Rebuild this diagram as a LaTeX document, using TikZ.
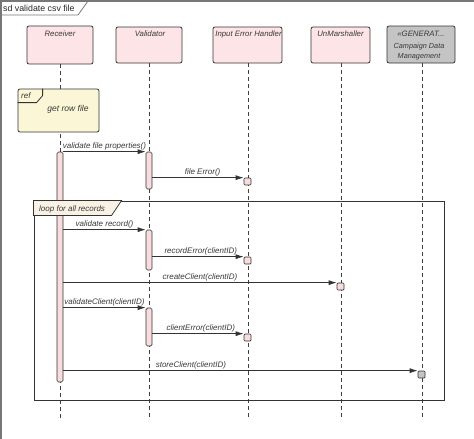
\documentclass[tikz,border=0pt]{standalone}
\usepackage{fontspec}
\setmainfont{Liberation Sans}
\usetikzlibrary{arrows.meta}
\definecolor{headpink}{HTML}{FDE4E6}
\definecolor{actpink}{HTML}{F9DCDE}
\definecolor{refyel}{HTML}{FBF6D6}
\definecolor{looptab}{HTML}{F9F2E4}
\definecolor{gengray}{HTML}{C4C4C4}
\definecolor{framegray}{HTML}{777777}
\begin{document}
\begin{tikzpicture}[x=1pt,y=-1pt,
  head/.style={draw=black!80, line width=0.8pt, fill=headpink, rounded corners=2pt, inner sep=0pt},
  htext/.style={font=\fontsize{7.8}{9}\selectfont\itshape, text=black!78, inner sep=0pt},
  mtext/.style={font=\fontsize{8}{9}\selectfont\itshape, text=black!78, inner sep=1.2pt},
  life/.style={draw=black!75, line width=0.7pt, dash pattern=on 4pt off 3pt},
  actbar/.style={draw=black!80, line width=0.7pt, fill=actpink, minimum width=6pt, inner sep=0pt, rounded corners=1.5pt},
  smallbox/.style={draw=black!80, line width=0.7pt, fill=actpink, minimum size=7pt, inner sep=0pt, rounded corners=1pt},
  msg/.style={draw=black!80, line width=0.75pt, -{Latex[length=8pt,width=5pt]}},
  framel/.style={draw=black!80, line width=0.8pt}
]
\useasboundingbox (0,0) rectangle (474,439);

% outer frame
\draw[framegray, line width=2.2pt] (1,439) -- (1,1) -- (474,1);
\draw[framegray, line width=0.8pt] (1,15) -- (78,15) -- (88,1);
\node[anchor=west, font=\fontsize{8.8}{10}\selectfont, text=black!85, inner sep=0pt] (title) at (3,8) {sd validate csv file};

% lifeline heads
\node[head, minimum width=66pt, minimum height=38pt] (rec) at (60,45) {};
\node[htext] (recT) at (60,34) {Receiver};
\node[head, minimum width=66pt, minimum height=36pt] (val) at (149,45) {};
\node[htext] (valT) at (150,34) {Validator};
\node[head, minimum width=69pt, minimum height=36pt] (ieh) at (247.5,45) {};
\node[htext] (iehT) at (248.5,34) {Input Error Handler};
\node[head, minimum width=59pt, minimum height=36pt] (unm) at (340.5,45) {};
\node[htext] (unmT) at (340.5,34) {UnMarshaller};
\node[head, fill=gengray, minimum width=68pt, minimum height=37pt] (gen) at (421,44.5) {};
\node[htext] (genT) at (421,34) {«GENERAT...};
\node[htext, align=center, font=\fontsize{7.3}{10}\selectfont\itshape] (genT2) at (419,52) {Campaign Data\\Management};

% lifeline ends
\coordinate (recE) at (60,420);
\coordinate (valE) at (149,420);
\coordinate (iehE) at (248,420);
\coordinate (unmE) at (341,420);
\coordinate (genE) at (422,420);
\draw[life] (rec.south) -- (recE);
\draw[life] (val.south) -- (valE);
\draw[life] (ieh.south -| iehE) -- (iehE);
\draw[life] (unm.south -| unmE) -- (unmE);
\draw[life] (gen.south -| genE) -- (genE);

% ref frame
\node[draw=black!80, line width=0.8pt, fill=refyel, rounded corners=2pt, minimum width=81pt, minimum height=43pt, inner sep=0pt] (ref) at (58.5,110.5) {};
\draw[framel] (ref.north west) ++(0,14) -- ++(19,0) -- ++(6,-7) -- ++(0,-7);
\node[anchor=west, mtext, inner sep=0pt] (refT) at (21,96) {ref};
\node[mtext, font=\fontsize{8.5}{10}\selectfont\itshape] (refG) at (68,109) {get row file};

% activations
\node[actbar, minimum height=230pt] (ra) at (60,267) {};
\node[actbar, minimum height=37pt] (va1) at (149,170.5) {};
\node[actbar, minimum height=40pt] (va2) at (149,250) {};
\node[actbar, minimum height=38pt] (va3) at (149,327) {};
\node[smallbox] (ie1) at (247.5,181.5) {};
\node[smallbox] (ie2) at (247.5,260.5) {};
\node[smallbox] (um1) at (340.5,286.5) {};
\node[smallbox] (ie3) at (247.5,337.5) {};
\node[smallbox, fill=gengray] (cd1) at (421.5,374.5) {};

% loop frame
\node[draw=black!80, line width=0.9pt, minimum width=410pt, minimum height=199pt, inner sep=0pt] (loop) at (239,300.5) {};
\filldraw[draw=black!80, fill=looptab, line width=0.8pt] (loop.north west) -- ++(0,15) -- ++(78,0) -- ++(10,-15) -- cycle;
\node[anchor=west, mtext, inner sep=0pt] (loopT) at (39,209) {loop for all records};

% messages
\draw[msg] (ra.east |- va1.north west) -- node[mtext, midway, above] {validate file properties()} (va1.north west);
\draw[msg] (va1.east |- ie1.north west) -- node[mtext, pos=.55, above] {file Error()} (ie1.north west);
\draw[msg] (ra.east |- va2.north west) -- node[mtext, midway, above] {validate record()} (va2.north west);
\draw[msg] (va2.east |- ie2.north west) -- node[mtext, pos=.53, above] {recordError(clientID)} (ie2.north west);
\draw[msg] (ra.east |- um1.north west) -- node[mtext, pos=.5, above] {createClient(clientID)} (um1.north west);
\draw[msg] (ra.east |- va3.north west) -- node[mtext, midway, above] {validateClient(clientID)} (va3.north west);
\draw[msg] (va3.east |- ie3.north west) -- node[mtext, pos=.53, above] {clientError(clientID)} (ie3.north west);
\draw[msg] (ra.east |- cd1.north west) -- node[mtext, pos=.36, above] {storeClient(clientID)} (cd1.north west);
\end{tikzpicture}
\end{document}
